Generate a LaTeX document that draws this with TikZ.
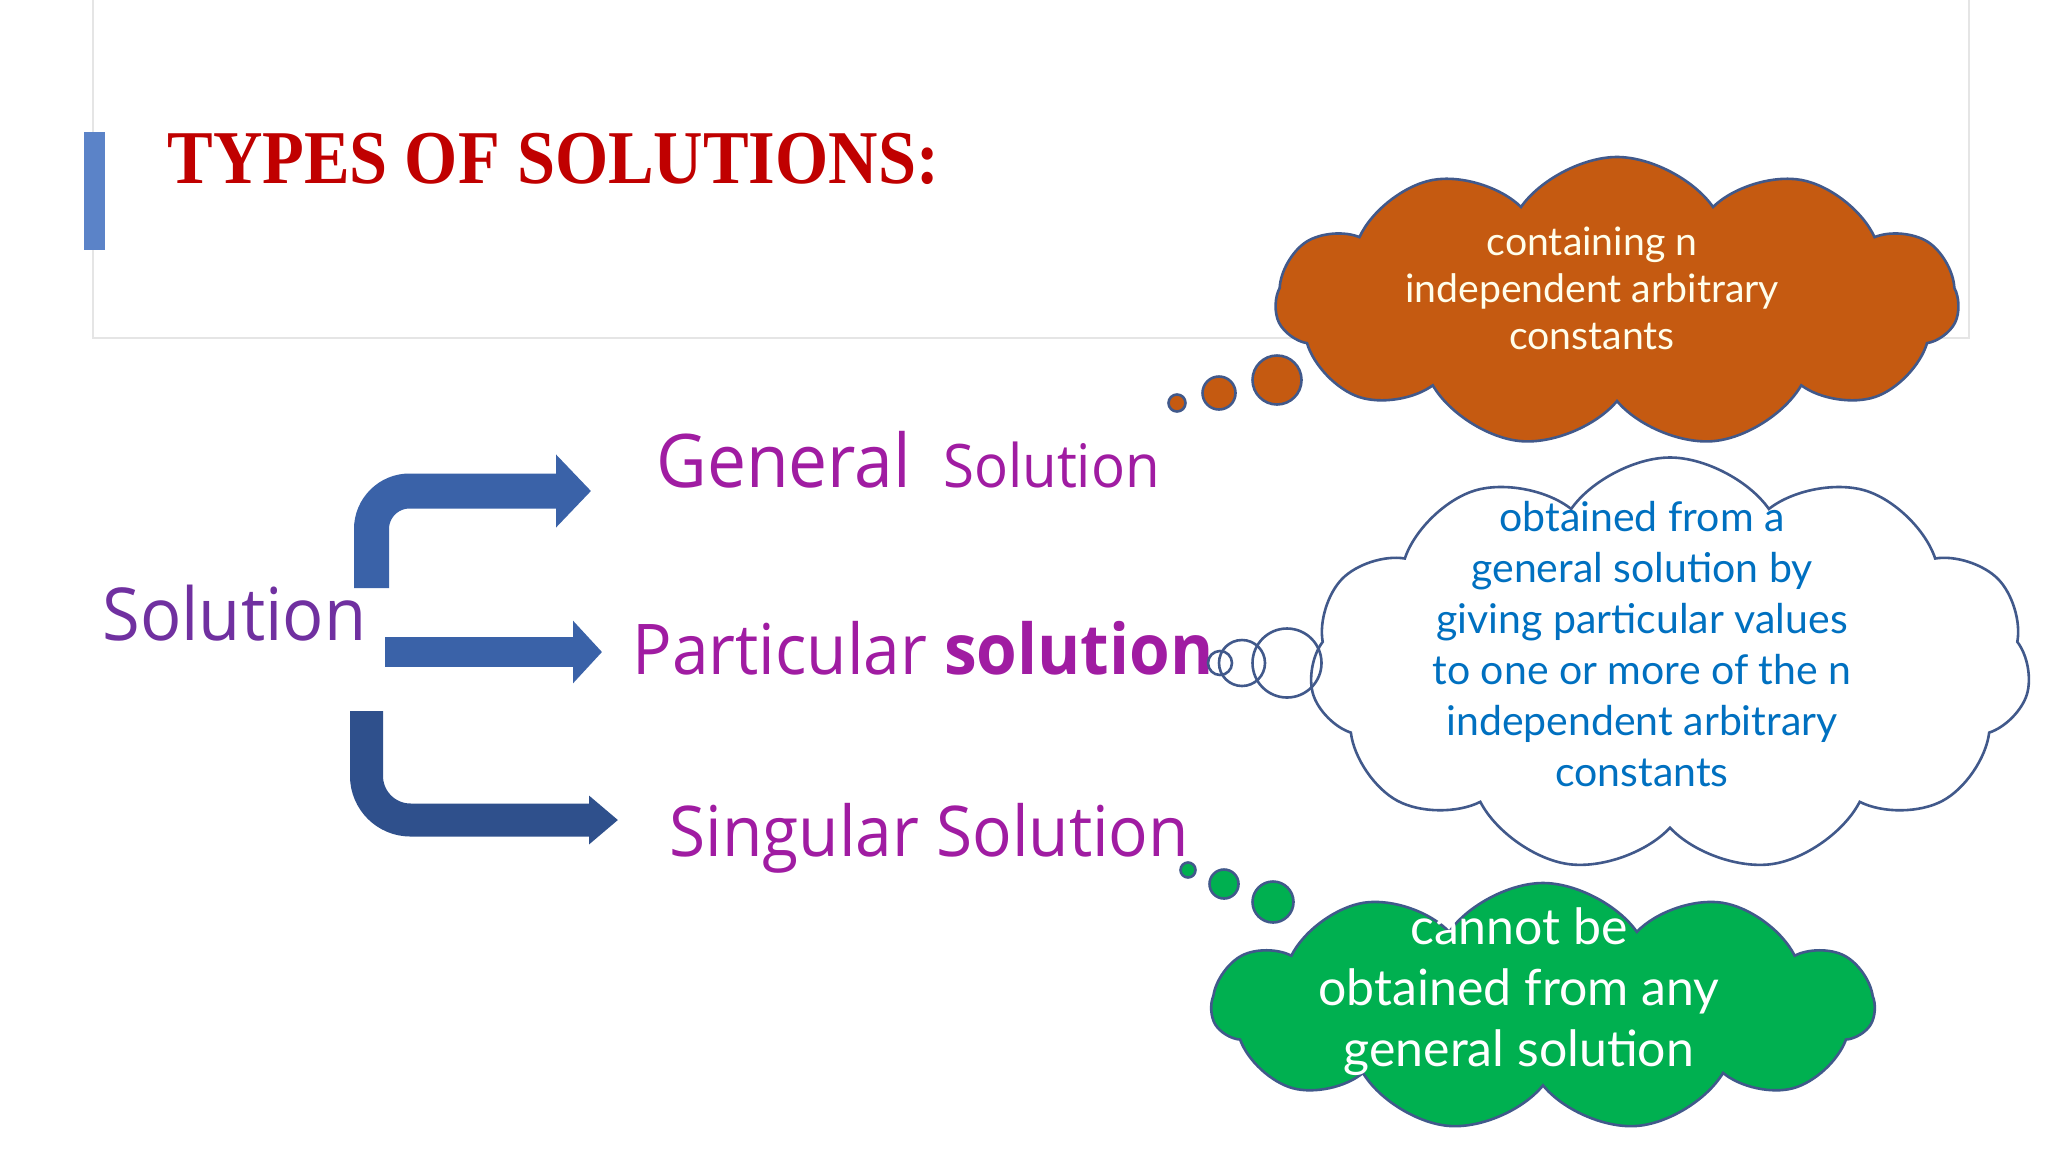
\documentclass[tikz,border=0pt]{standalone}
\usepackage{fontspec}
\setmainfont{Liberation Serif}
\newfontfamily\handfont{Open Sans}[FakeStretch=0.94]
\newfontfamily\cloudfont{Lato}
\usetikzlibrary{arrows.meta, positioning, shapes.symbols}

\definecolor{titlered}{HTML}{C00000}
\definecolor{barblue}{HTML}{5B83C8}
\definecolor{solpurple}{HTML}{7030A0}
\definecolor{labelmagenta}{HTML}{A01CA2}
\definecolor{arrowblue}{HTML}{3A62A8}
\definecolor{arrowdark}{HTML}{2F508C}
\definecolor{cloudline}{HTML}{41598B}
\definecolor{cloudorange}{HTML}{C55A11}
\definecolor{cloudgreen}{HTML}{00B050}
\definecolor{textblue}{HTML}{0070C0}

\tikzset{
  labeltext/.style={anchor=base west, inner sep=0pt, text=labelmagenta,
    font=\handfont\fontsize{35}{40}\selectfont},
  thought/.style={cloud, draw=cloudline, line width=1.3pt, cloud puffs=11,
    cloud puff arc=110, cloud ignores aspect, inner sep=0pt},
  bubble/.style={circle, draw=cloudline, line width=1.3pt, inner sep=0pt},
  cloudtext/.style={align=center, inner sep=0pt, font=\cloudfont\fontsize{19.6}{23.5}\selectfont},
}

\begin{document}
\begin{tikzpicture}[x=0.5pt, y=-0.5pt]
  \useasboundingbox (0,0) rectangle (2048,1152);
  \fill[white] (0,0) rectangle (2048,1152);

  % slide title area
  \draw[gray!20, line width=1.2pt] (93,-10) rectangle (1969,338);
  \fill[barblue] (84,132) rectangle (105,250);
  \node (title) [anchor=base west, inner sep=0pt, text=titlered,
    font=\bfseries\fontsize{38}{40}\selectfont] at (167,183)
    {\scalebox{0.9}[1]{TYPES OF SOLUTIONS:}};

  % labels
  \node (sol) [labeltext, text=solpurple, font=\handfont\fontsize{36.5}{40}\selectfont] at (102,640) {Solution};
  \node (gen) [labeltext, font=\handfont\fontsize{37}{40}\selectfont] at (656,487)
    {General\hspace{16pt}{\fontsize{30}{30}\selectfont Solution}};
  \node (part) [labeltext] at (632,674) {Particular \textbf{solution}};
  \node (sing) [labeltext] at (669,856) {Singular Solution};

  % block arrows
  \coordinate (genfrom) at (371.5,588);
  \coordinate (gento) at (591,491);
  \coordinate (partfrom) at (385,652);
  \coordinate (partto) at (602,652);
  \coordinate (singfrom) at (366.5,711);
  \coordinate (singto) at (618,820);
  \draw[arrowblue, line width=17.5pt, rounded corners=19pt,
    -{Triangle[length=17.5pt, width=35.5pt]}] (genfrom) |- (gento);
  \draw[arrowblue, line width=15pt,
    -{Triangle[length=14.5pt, width=30.5pt]}] (partfrom) -- (partto);
  \draw[arrowdark, line width=16.5pt, rounded corners=22pt,
    -{Triangle[length=14.5pt, width=23.5pt]}] (singfrom) |- (singto);

  % general solution cloud
  \node (gencloud) [thought, fill=cloudorange, minimum width=341.5pt, minimum height=145pt] at (1617,302) {};
  \node (genb1) [bubble, fill=cloudorange, minimum size=24.5pt] at (1277,380) {};
  \node (genb2) [bubble, fill=cloudorange, minimum size=16.5pt] at (1219,393) {};
  \node (genb3) [bubble, fill=cloudorange, minimum size=8.5pt] at (1177,403) {};
  \node (gentext) [cloudtext, text=white!92!yellow] at (1592,288)
    {containing n\\independent arbitrary\\constants};

  % particular solution cloud
  \node (partcloud) [thought, minimum width=360.5pt, minimum height=207.5pt] at (1670,665) {};
  \node (partb1) [bubble, minimum size=34.5pt] at (1287,663) {};
  \node (partb2) [bubble, minimum size=23pt] at (1242,663) {};
  \node (partb3) [bubble, minimum size=12pt] at (1220,663) {};
  \node (parttext) [cloudtext, text=textblue, font=\cloudfont\fontsize{20.5}{25.5}\selectfont] at (1642,644)
    {obtained from a\\general solution by\\giving particular values\\to one or more of the n\\independent arbitrary\\constants};

  % singular solution cloud
  \node (singcloud) [thought, fill=cloudgreen, minimum width=331pt, minimum height=124pt] at (1543,1007) {};
  \node (singb1) [bubble, fill=cloudgreen, minimum size=20.5pt] at (1273,902) {};
  \node (singb2) [bubble, fill=cloudgreen, minimum size=14.5pt] at (1224,884) {};
  \node (singb3) [bubble, fill=cloudgreen, minimum size=7.5pt] at (1188,870) {};
  \node (singtext) [cloudtext, text=white, font=\cloudfont\fontsize{25}{30.5}\selectfont] at (1519,992)
    {cannot be\\obtained from any\\general solution};
\end{tikzpicture}
\end{document}
